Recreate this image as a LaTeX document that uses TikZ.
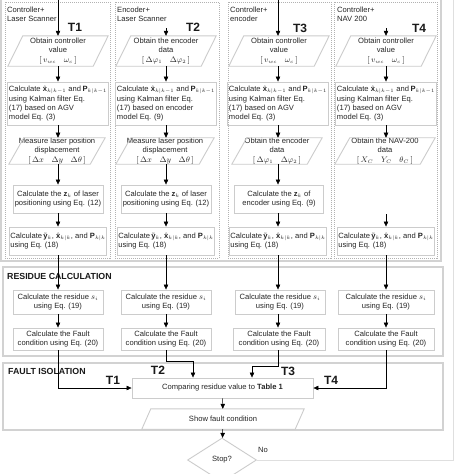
\documentclass[tikz,border=0pt]{standalone}
\usepackage{fontspec}
\setmainfont{Liberation Sans}
\usetikzlibrary{arrows.meta,shapes.geometric,calc}
\tikzset{
  txt/.style={font=\fontsize{7.6}{9.3}\selectfont, text=black!85},
  box/.style={txt, draw=gray!40, line width=0.9pt, inner sep=1.2pt, align=center},
  lbox/.style={box, align=left},
  ptext/.style={txt, inner sep=0pt, align=center},
  boxline/.style={draw=gray!40, line width=0.9pt},
  arr/.style={-{Triangle[length=5pt,width=4.5pt]}, line width=0.5pt, black},
  frame/.style={draw=gray!35, line width=1.2pt},
  colframe/.style={draw=gray!60, line width=0.6pt, dash pattern=on 1pt off 1pt},
  loopline/.style={draw=gray!25, line width=1pt},
  tlab/.style={font=\fontsize{12}{12}\selectfont\bfseries, text=black!90, inner sep=0pt},
  head/.style={font=\fontsize{8.8}{10}\selectfont\bfseries, text=black!90, inner sep=0pt, anchor=west},
  collab/.style={txt, align=left, anchor=north west, inner sep=0pt},
}
\newcommand{\drawpara}[2][15]{\draw[boxline] (#2.south west) -- ([xshift=#1pt]#2.north west) -- (#2.north east) -- ([xshift=-#1pt]#2.south east) -- cycle;}
\begin{document}
\begin{tikzpicture}[x=1pt,y=-1pt]
\useasboundingbox (0,0) rectangle (474,474);
\fill[white] (0,0) rectangle (474,474);

% frames
\draw[frame] (1,-2) rectangle (441,261);
\draw[colframe] (5,2) rectangle (110,258);
\draw[colframe] (115,2) rectangle (219,258);
\draw[colframe] (228,2) rectangle (331,258);
\draw[colframe] (334,2) rectangle (437,258);
\draw[frame] (3,267) rectangle (443,356);
\draw[frame] (3,363) rectangle (443,430);

% column labels
\node[collab] (lab1) at (7,6.5) {Controller+\\Laser Scanner};
\node[collab] (lab2) at (117,6.5) {Encoder+\\Laser Scanner};
\node[collab] (lab3) at (230,6.5) {Controller+\\encoder};
\node[collab] (lab4) at (337,6.5) {Controller+\\NAV 200};

\node[tlab] (tt1) at (75,27) {T1};
\node[tlab] (tt2) at (193,27) {T2};
\node[tlab] (tt3) at (300,28) {T3};
\node[tlab] (tt4) at (419,28) {T4};

% ---------- column 1 ----------
\node[ptext, minimum width=100, minimum height=30] (p11) at (58,51)
  {Obtain controller\\value\\$\left[\,v_{wc}\quad \omega_c\,\right]$};
\node[lbox, minimum width=96, minimum height=43] (b11) at (58,103.5)
  {Calculate $\hat{\mathbf{x}}_{k|k-1}$ and$\,\mathbf{P}_{k|k-1}$\\using Kalman filter Eq.\\(17) based on AGV\\model Eq. (3)};
\node[ptext, minimum width=96, minimum height=24] (p12) at (57,151)
  {Measure laser position\\displacement\\$\left[\,\Delta x\quad \Delta y\quad \Delta\theta\,\right]$};
\node[box, minimum width=90, minimum height=28] (b12) at (58,199)
  {Calculate the $\mathbf{z}_k$ of laser\\positioning using Eq. (12)};
\node[lbox, minimum width=90, minimum height=28] (b13) at (58,241)
  {Calculate\,$\tilde{\mathbf{y}}_k$, $\hat{\mathbf{x}}_{k|k}$, and $\mathbf{P}_{k|k}$\\using Eq. (18)};
\node[box, minimum width=90, minimum height=24] (r1) at (58,302)
  {Calculate the residue $s_i$\\using Eq. (19)};
\node[box, minimum width=90, minimum height=22] (f1) at (58,339)
  {Calculate the Fault\\condition using Eq. (20)};

% ---------- column 2 ----------
\node[ptext, minimum width=100, minimum height=30] (p21) at (166,51)
  {Obtain the encoder\\data\\$\left[\,\Delta\varphi_1\quad \Delta\varphi_2\,\right]$};
\node[lbox, minimum width=96, minimum height=43] (b21) at (166,103.5)
  {Calculate $\hat{\mathbf{x}}_{k|k-1}$ and$\,\mathbf{P}_{k|k-1}$\\using Kalman filter Eq.\\(17) based on encoder\\model Eq. (9)};
\node[ptext, minimum width=98, minimum height=24] (p22) at (165,151)
  {Measure laser position\\displacement\\$\left[\,\Delta x\quad \Delta y\quad \Delta\theta\,\right]$};
\node[box, minimum width=90, minimum height=28] (b22) at (166,199)
  {Calculate the $\mathbf{z}_k$ of laser\\positioning using Eq. (12)};
\node[lbox, minimum width=90, minimum height=28] (b23) at (166,241)
  {Calculate\,$\tilde{\mathbf{y}}_k$, $\hat{\mathbf{x}}_{k|k}$, and $\mathbf{P}_{k|k}$\\using Eq. (18)};
\node[box, minimum width=90, minimum height=24] (r2) at (166,302)
  {Calculate the residue $s_i$\\using Eq. (19)};
\node[box, minimum width=90, minimum height=22] (f2) at (166,339)
  {Calculate the Fault\\condition using Eq. (20)};

% ---------- column 3 ----------
\node[ptext, minimum width=100, minimum height=30] (p31) at (279,51)
  {Obtain controller\\value\\$\left[\,v_{wc}\quad \omega_c\,\right]$};
\node[lbox, minimum width=96, minimum height=43] (b31) at (278,103.5)
  {Calculate $\hat{\mathbf{x}}_{k|k-1}$ and$\,\mathbf{P}_{k|k-1}$\\using Kalman filter Eq.\\(17) based on AGV\\model Eq. (3)};
\node[ptext, minimum width=90, minimum height=24] (p32) at (277,151)
  {Obtain the encoder\\data\\$\left[\,\Delta\varphi_1\quad \Delta\varphi_2\,\right]$};
\node[box, minimum width=89, minimum height=28] (b32) at (279,199)
  {Calculate the $\mathbf{z}_k$ of\\encoder using Eq. (9)};
\node[lbox, minimum width=92, minimum height=28] (b33) at (278,241)
  {Calculate\,$\tilde{\mathbf{y}}_k$, $\hat{\mathbf{x}}_{k|k}$, and $\mathbf{P}_{k|k}$\\using Eq. (18)};
\node[box, minimum width=90, minimum height=24] (r3) at (280,302)
  {Calculate the residue $s_i$\\using Eq. (19)};
\node[box, minimum width=92, minimum height=22] (f3) at (279,339)
  {Calculate the Fault\\condition using Eq. (20)};

% ---------- column 4 ----------
\node[ptext, minimum width=100, minimum height=30] (p41) at (386,51)
  {Obtain controller\\value\\$\left[\,v_{wc}\quad \omega_c\,\right]$};
\node[lbox, minimum width=96, minimum height=43] (b41) at (386,103.5)
  {Calculate $\hat{\mathbf{x}}_{k|k-1}$ and$\,\mathbf{P}_{k|k-1}$\\using Kalman filter Eq.\\(17) based on AGV\\model Eq. (3)};
\node[ptext, minimum width=100, minimum height=24] (p42) at (385,151)
  {Obtain the NAV-200\\data\\$\left[\,X_C\quad Y_C\quad \theta_C\,\right]$};
\node[lbox, minimum width=96, minimum height=28] (b43) at (386,241)
  {Calculate\,$\tilde{\mathbf{y}}_k$, $\hat{\mathbf{x}}_{k|k}$, and $\mathbf{P}_{k|k}$\\using Eq. (18)};
\node[box, minimum width=96, minimum height=24] (r4) at (386,302)
  {Calculate the residue $s_i$\\using Eq. (19)};
\node[box, minimum width=96, minimum height=22] (f4) at (386,339)
  {Calculate the Fault\\condition using Eq. (20)};

\drawpara{p11}\drawpara{p12}
\drawpara{p21}\drawpara{p22}
\drawpara{p31}\drawpara{p32}
\drawpara{p41}\drawpara{p42}

% headings
\node[head] (hres) at (7,276) {RESIDUE CALCULATION};
\node[head] (hfault) at (8,371) {FAULT ISOLATION};

% fault isolation nodes
\node[box, minimum width=181, minimum height=20] (cmp) at (222.5,388)
  {Comparing residue value to \textbf{Table 1}};
\node[ptext, minimum width=162, minimum height=20] (sf) at (223,419) {Show fault condition};
\drawpara[9]{sf}
\node[txt, diamond, draw=gray!40, line width=0.9pt, minimum width=69, minimum height=44, inner sep=0pt] (stop) at (222,460) {Stop?};
\node[txt, anchor=west, inner sep=0pt] (no) at (258,450) {No};

% coordinates
\coordinate (s1) at (58,0);
\coordinate (s2) at (166,28);
\coordinate (s3) at (278,0);
\coordinate (s4) at (386,28);
\coordinate (g4) at (386,214);
\coordinate (t2a) at (166,361);
\coordinate (t2b) at (193,361);
\coordinate (t3a) at (278,366);
\coordinate (t3b) at (252,366);
\coordinate (l1) at (453,460);
\coordinate (l2) at (453,0);

% connectors column 1
\draw[arr] (s1) -- (p11);
\draw[arr] (p11) -- (b11);
\draw[arr] (b11) -- (p12.north -| b11);
\draw[arr] (p12.south -| b12) -- (b12);
\draw[arr] (b12) -- (b13);
\draw[arr] (b13) -- (r1);
\draw[arr] (r1) -- (f1);
% column 2
\draw[arr] (s2) -- (p21);
\draw[arr] (p21) -- (b21);
\draw[arr] (b21) -- (p22.north -| b21);
\draw[arr] (p22.south -| b22) -- (b22);
\draw[arr] (b22) -- (b23);
\draw[arr] (b23) -- (r2);
\draw[arr] (r2) -- (f2);
% column 3
\draw[arr] (s3) -- (p31.north -| s3);
\draw[arr] (p31.south -| b31) -- (b31);
\draw[arr] (b31) -- (p32.north -| b31);
\draw[arr] (p32.south -| b31) -- (b32.north -| b31);
\draw[arr] (b32.south -| b31) -- (b33);
\draw[arr] (b33) -- (r3.north -| b33);
\draw[arr] (r3.south -| b33) -- (f3.north -| b33);
% column 4
\draw[arr] (s4) -- (p41.north -| s4);
\draw[arr] (p41.south -| b41) -- (b41);
\draw[arr] (b41) -- (p42.north -| b41);
\draw[arr] (g4) -- (b43);
\draw[arr] (b43) -- (r4);
\draw[arr] (r4) -- (f4);

% to fault isolation
\draw[arr] (f1.south) |- (cmp.west);
\draw[arr] (f2.south) -- (t2a) -- (t2b) -- (t2b |- cmp.north);
\draw[arr] (f3.south -| t3a) -- (t3a) -- (t3b) -- (t3b |- cmp.north);
\draw[arr] (f4.south) |- (cmp.east);
\node[tlab] (u1) at (113,380) {T1};
\node[tlab] (u2) at (158,370) {T2};
\node[tlab] (u3) at (288,371) {T3};
\node[tlab] (u4) at (331,380) {T4};

\draw[arr] (cmp) -- (sf);
\draw[arr] (sf) -- (stop);
\draw[loopline] (stop.east) -- (l1) -- (l2);
\end{tikzpicture}
\end{document}
